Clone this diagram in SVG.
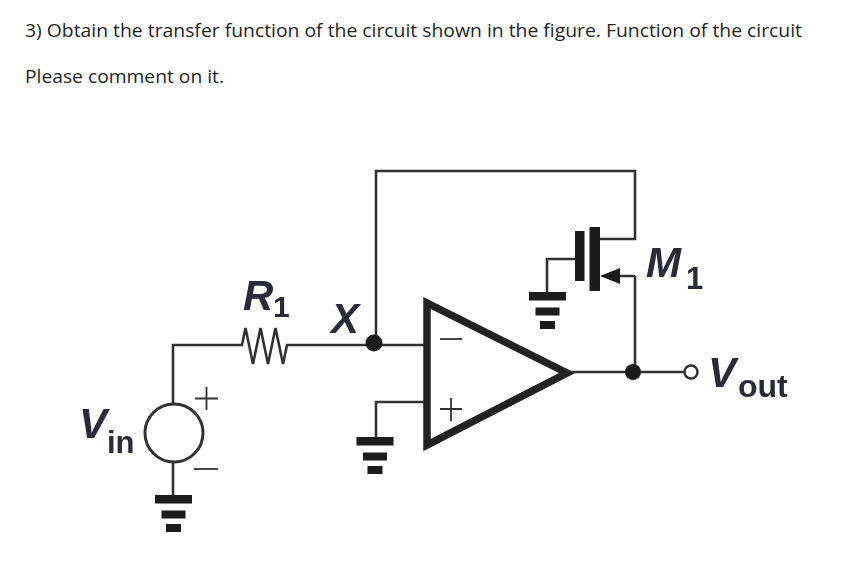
<svg xmlns="http://www.w3.org/2000/svg" width="845" height="588" viewBox="0 0 845 588">
  <style>
    .q { font-family: "Open Sans", "Noto Sans", sans-serif; font-size: 19px; fill: #1f1f1f; }
    .w { fill: none; stroke: #333; stroke-width: 2.6; }
    .k { fill: #1c1c1c; }
    .t { fill: none; stroke: #222; stroke-width: 7.500; stroke-linejoin: miter; }
    .s { fill: none; stroke: #333; stroke-width: 1.8; }
    .l { font-family: "Liberation Sans", Arial, sans-serif; font-weight: bold; font-style: italic; fill: #2a2a3a; font-size: 42px; }
    .b { font-family: "Liberation Sans", Arial, sans-serif; font-weight: bold; fill: #2a2a3a; }
  </style>
  <defs>
    <filter id="soft" x="-5%" y="-5%" width="110%" height="110%"><feGaussianBlur stdDeviation="0.7"/></filter>
    <g id="gnd">
      <rect class="k" x="-18.500" y="0" width="37" height="8.500"/>
      <rect class="k" x="-12" y="15.500" width="24" height="8"/>
      <rect class="k" x="-7.500" y="29" width="15" height="8"/>
    </g>
  </defs>
  <rect width="845" height="588" fill="#fff"/>
  <text class="q" x="25" y="37" textLength="777" lengthAdjust="spacingAndGlyphs">3) Obtain the transfer function of the circuit shown in the figure. Function of the circuit</text>
  <text class="q" x="25" y="83" textLength="199" lengthAdjust="spacingAndGlyphs">Please comment on it.</text>
  <g filter="url(#soft)">
    <g id="connectors">
      <path class="w" d="M173 404V345H242l3.500-17 7.500 36 7.500-36 7.500 36 7.500-36 7.500 36 4-19H424"/>
      <path class="w" d="M376 343V171H635V239H600"/>
      <path class="w" d="M635 276V372M610 276H635"/>
      <path class="w" d="M572 372H684"/>
      <path class="w" d="M424 402H376V437"/>
      <path class="w" d="M576 259H547V292"/>
      <path class="w" d="M173 462V495"/>
    </g>
    <g id="source-vin">
      <circle cx="174" cy="433" r="29" fill="#fff" stroke="#333" stroke-width="3"/>
      <path class="s" d="M195 398.500H218M206.500 387V410"/>
      <path class="s" d="M194 469H218" stroke-width="2.500"/>
      <use href="#gnd" x="173.500" y="495"/>
      <text class="l" x="79" y="438">V</text>
      <text class="b" x="107" y="453" font-size="31">in</text>
    </g>
    <g id="resistor-r1">
      <text class="l" x="243" y="310">R</text>
      <text class="b" x="273" y="317" font-size="30">1</text>
    </g>
    <g id="node-x">
      <circle class="k" cx="374" cy="343" r="8.500"/>
      <text class="l" x="331" y="333">X</text>
    </g>
    <g id="opamp">
      <path class="t" d="M427 303V445L567 373Z"/>
      <path class="s" d="M440 339H462" stroke-width="2.500"/>
      <path class="s" d="M440 409H462M451 398V421"/>
      <use href="#gnd" x="375" y="437"/>
    </g>
    <g id="mosfet-m1">
      <rect class="k" x="575" y="231" width="9.500" height="50"/>
      <rect class="k" x="589.500" y="227" width="10.500" height="64"/>
      <path class="k" d="M600 276L620 268V284Z"/>
      <use href="#gnd" x="547.500" y="292"/>
      <text class="l" x="646" y="277">M</text>
      <text class="b" x="686" y="289" font-size="31">1</text>
    </g>
    <g id="output">
      <circle class="k" cx="633" cy="372" r="8"/>
      <circle cx="691" cy="372" r="6.500" fill="#fff" stroke="#333" stroke-width="2.500"/>
      <text class="l" x="708" y="387">V</text>
      <text class="b" x="738" y="397" font-size="32">out</text>
    </g>
  </g>
</svg>
